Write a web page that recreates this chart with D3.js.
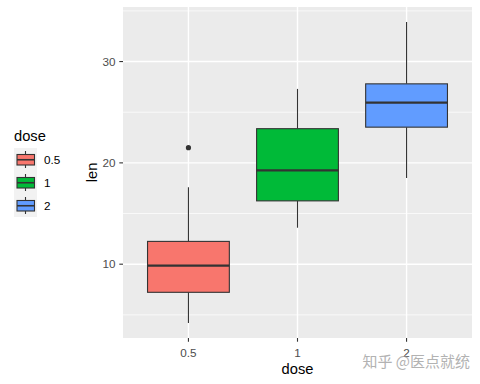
<!DOCTYPE html>
<html><head><meta charset="utf-8">
<script src="https://cdn.jsdelivr.net/npm/d3@7"></script>
<style>body{margin:0;background:#fff}svg{display:block;font-family:"Liberation Sans",Arial,sans-serif}</style>
</head><body>
<svg id="c" width="480" height="384"></svg>
<script>
const categories = ["0.5", "1", "2"];
const colors = ["#F8766D", "#00BA38", "#619CFF"];
const lowerWhisker = [4.2, 13.6, 18.5];
const q1 = [7.225, 16.25, 23.525];
const median = [9.85, 19.25, 25.95];
const q3 = [12.25, 23.375, 27.8];
const upperWhisker = [17.6, 27.3, 33.9];
const outliers = [[21.5], [], []];
const yTicks = [10, 20, 30];
const yMinor = [5, 15, 25, 35];

const svg = d3.select("#c");
const L = 123, R = 472, T = 7, B = 338;
const y = d3.scaleLinear().domain([2.715, 35.385]).range([B, T]);
const x = d3.scaleBand().domain(categories).range([L, R]).paddingOuter(0.1).paddingInner(0); 
// discrete expansion 0.6 on each side over 3 categories
const unit = (R - L) / 3.2;
const cx = d => L + (0.6 + categories.indexOf(d)) * unit;

svg.append("rect").attr("x", L).attr("y", T).attr("width", R - L).attr("height", B - T).attr("fill", "#EBEBEB");
const g = svg.append("g");
yMinor.forEach(v => g.append("line").attr("x1", L).attr("x2", R).attr("y1", y(v)).attr("y2", y(v)).attr("stroke", "#fff").attr("stroke-width", 0.7));
yTicks.forEach(v => g.append("line").attr("x1", L).attr("x2", R).attr("y1", y(v)).attr("y2", y(v)).attr("stroke", "#fff").attr("stroke-width", 1.4));
categories.forEach(c => g.append("line").attr("x1", cx(c)).attr("x2", cx(c)).attr("y1", T).attr("y2", B).attr("stroke", "#fff").attr("stroke-width", 1.4));

const bw = 0.75 * unit;
categories.forEach((c, i) => {
  const xc = cx(c);
  g.append("line").attr("x1", xc).attr("x2", xc).attr("y1", y(q3[i])).attr("y2", y(upperWhisker[i])).attr("stroke", "#333").attr("stroke-width", 1.1);
  g.append("line").attr("x1", xc).attr("x2", xc).attr("y1", y(q1[i])).attr("y2", y(lowerWhisker[i])).attr("stroke", "#333").attr("stroke-width", 1.1);
  g.append("rect").attr("x", xc - bw / 2).attr("y", y(q3[i])).attr("width", bw).attr("height", y(q1[i]) - y(q3[i]))
    .attr("fill", colors[i]).attr("stroke", "#333").attr("stroke-width", 1.1);
  g.append("line").attr("x1", xc - bw / 2).attr("x2", xc + bw / 2).attr("y1", y(median[i])).attr("y2", y(median[i])).attr("stroke", "#333").attr("stroke-width", 2.2);
  outliers[i].forEach(o => g.append("circle").attr("cx", xc).attr("cy", y(o)).attr("r", 2.6).attr("fill", "#333"));
});

// axes
const ax = svg.append("g").attr("font-size", 11.7).attr("fill", "#4D4D4D");
yTicks.forEach(v => {
  ax.append("line").attr("x1", L - 3.7).attr("x2", L).attr("y1", y(v)).attr("y2", y(v)).attr("stroke", "#333").attr("stroke-width", 1.1);
  ax.append("text").attr("x", L - 7.5).attr("y", y(v)).attr("dy", "0.35em").attr("text-anchor", "end").text(v);
});
categories.forEach(c => {
  ax.append("line").attr("x1", cx(c)).attr("x2", cx(c)).attr("y1", B).attr("y2", B + 3.7).attr("stroke", "#333").attr("stroke-width", 1.1);
  ax.append("text").attr("x", cx(c)).attr("y", 357).attr("text-anchor", "middle").text(c);
});
svg.append("text").attr("x", (L + R) / 2).attr("y", 374).attr("text-anchor", "middle").attr("font-size", 14.7).attr("fill", "#000").text("dose");
svg.append("text").attr("transform", `translate(97,${(T + B) / 2}) rotate(-90)`).attr("text-anchor", "middle").attr("font-size", 14.7).attr("fill", "#000").text("len");

// legend
const lg = svg.append("g");
lg.append("text").attr("x", 14).attr("y", 141).attr("font-size", 14.7).attr("fill", "#000").text("dose");
categories.forEach((c, i) => {
  const ky = 148 + i * 23;
  lg.append("rect").attr("x", 14).attr("y", ky).attr("width", 23).attr("height", 23).attr("fill", "#F2F2F2");
  lg.append("line").attr("x1", 25.5).attr("x2", 25.5).attr("y1", ky + 3).attr("y2", ky + 20).attr("stroke", "#333").attr("stroke-width", 1.1);
  lg.append("rect").attr("x", 17).attr("y", ky + 6.5).attr("width", 17.5).attr("height", 10.5).attr("fill", colors[i]).attr("stroke", "#333").attr("stroke-width", 1.1);
  lg.append("line").attr("x1", 17).attr("x2", 34.5).attr("y1", ky + 11.75).attr("y2", ky + 11.75).attr("stroke", "#333").attr("stroke-width", 1.6);
  lg.append("text").attr("x", 44).attr("y", ky + 11.5).attr("dy", "0.35em").attr("font-size", 11.7).attr("fill", "#000").text(c);
});

// watermark
svg.append("text").attr("x", 470).attr("y", 367).attr("text-anchor", "end").attr("font-size", 15)
  .attr("font-family", "'Noto Sans CJK SC',sans-serif").attr("fill", "#999").attr("opacity", 0.75).text("知乎 @医点就统");
</script>
</body></html>
